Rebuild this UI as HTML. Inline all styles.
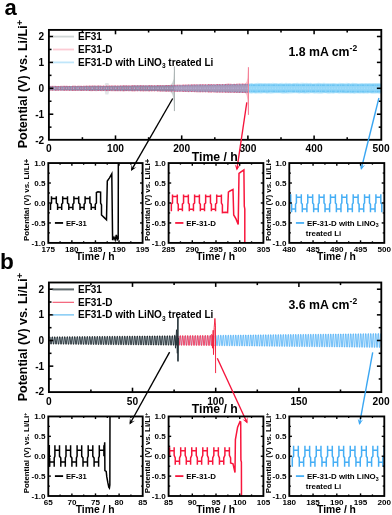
<!DOCTYPE html>
<html><head><meta charset="utf-8"><title>Figure</title>
<style>html,body{margin:0;padding:0;background:#fff}svg{display:block}text{font-family:"Liberation Sans", sans-serif;}</style>
</head><body>
<svg width="392" height="515" viewBox="0 0 392 515" font-family='"Liberation Sans", sans-serif'>
<rect width="392" height="515" fill="#fff"/>
<polygon points="247.90,83.28 249.80,83.20 251.70,83.04 253.60,83.42 255.50,83.26 257.40,82.80 259.31,82.90 261.21,83.02 263.11,83.02 265.01,83.09 266.91,82.99 268.81,82.94 270.71,83.22 272.61,82.87 274.51,82.96 276.41,82.96 278.31,83.16 280.22,83.12 282.12,82.85 284.02,83.31 285.92,82.79 287.82,83.00 289.72,83.07 291.62,83.17 293.52,83.02 295.42,82.96 297.32,82.85 299.22,82.96 301.12,82.84 303.03,82.81 304.93,82.93 306.83,82.86 308.73,83.19 310.63,82.84 312.53,83.31 314.43,83.11 316.33,83.18 318.23,82.82 320.13,82.98 322.03,82.91 323.94,82.81 325.84,83.04 327.74,83.16 329.64,82.98 331.54,83.23 333.44,82.97 335.34,83.32 337.24,83.15 339.14,82.78 341.04,83.05 342.94,82.94 344.85,82.99 346.75,82.75 348.65,83.06 350.55,83.18 352.45,82.72 354.35,82.99 356.25,83.07 358.15,83.31 360.05,82.93 361.95,82.93 363.85,82.90 365.75,82.88 367.66,83.30 369.56,82.89 371.46,83.15 373.36,82.94 375.26,83.08 377.16,83.08 379.06,83.12 380.96,82.82 380.96,93.90 379.06,93.68 377.16,93.55 375.26,93.72 373.36,93.71 371.46,93.63 369.56,93.31 367.66,93.87 365.75,93.45 363.85,93.68 361.95,93.61 360.05,93.86 358.15,93.52 356.25,93.54 354.35,93.89 352.45,93.57 350.55,93.70 348.65,93.44 346.75,93.57 344.85,93.50 342.94,93.51 341.04,93.56 339.14,93.64 337.24,93.28 335.34,93.34 333.44,93.78 331.54,93.62 329.64,93.85 327.74,93.82 325.84,93.25 323.94,93.26 322.03,93.66 320.13,93.83 318.23,93.83 316.33,93.38 314.43,93.76 312.53,93.36 310.63,93.24 308.73,93.81 306.83,93.49 304.93,93.72 303.03,93.49 301.12,93.24 299.22,93.74 297.32,93.22 295.42,93.26 293.52,93.27 291.62,93.47 289.72,93.59 287.82,93.64 285.92,93.56 284.02,93.69 282.12,93.76 280.22,93.24 278.31,93.32 276.41,93.25 274.51,93.27 272.61,93.52 270.71,93.79 268.81,93.44 266.91,93.77 265.01,93.35 263.11,93.27 261.21,93.71 259.31,93.51 257.40,93.51 255.50,93.65 253.60,93.28 251.70,93.75 249.80,93.42 247.90,93.45" fill="#c9ecfc" opacity="1"/>
<polygon points="247.90,83.87 249.80,83.97 251.70,83.77 253.60,84.02 255.50,83.81 257.40,83.96 259.31,83.75 261.21,83.74 263.11,83.95 265.01,83.72 266.91,83.99 268.81,83.86 270.71,83.75 272.61,84.00 274.51,83.74 276.41,83.74 278.31,84.02 280.22,83.74 282.12,83.93 284.02,83.90 285.92,83.69 287.82,84.06 289.72,83.70 291.62,83.88 293.52,83.68 295.42,83.75 297.32,83.78 299.22,83.93 301.12,83.96 303.03,83.81 304.93,83.71 306.83,83.67 308.73,83.66 310.63,83.67 312.53,84.04 314.43,83.97 316.33,83.76 318.23,83.86 320.13,83.78 322.03,83.93 323.94,83.83 325.84,83.88 327.74,83.80 329.64,83.95 331.54,83.64 333.44,83.68 335.34,83.76 337.24,84.00 339.14,83.90 341.04,83.84 342.94,83.69 344.85,83.99 346.75,83.96 348.65,83.60 350.55,83.97 352.45,83.87 354.35,83.86 356.25,83.76 358.15,83.92 360.05,83.94 361.95,83.70 363.85,83.96 365.75,83.83 367.66,83.66 369.56,83.65 371.46,83.81 373.36,83.78 375.26,83.81 377.16,83.79 379.06,83.75 380.96,83.95 380.96,92.86 379.06,92.75 377.16,92.93 375.26,92.75 373.36,92.74 371.46,92.88 369.56,92.77 367.66,92.87 365.75,92.77 363.85,92.95 361.95,92.86 360.05,92.79 358.15,92.88 356.25,92.87 354.35,92.75 352.45,92.88 350.55,92.80 348.65,92.65 346.75,92.98 344.85,92.95 342.94,93.00 341.04,92.80 339.14,92.78 337.24,92.88 335.34,92.64 333.44,92.99 331.54,92.66 329.64,92.66 327.74,92.65 325.84,92.90 323.94,92.66 322.03,92.63 320.13,92.84 318.23,92.59 316.33,92.76 314.43,92.85 312.53,92.66 310.63,92.73 308.73,92.60 306.83,92.68 304.93,92.95 303.03,92.84 301.12,92.93 299.22,92.82 297.32,92.74 295.42,92.61 293.52,92.86 291.62,92.56 289.72,92.54 287.82,92.56 285.92,92.88 284.02,92.78 282.12,92.77 280.22,92.83 278.31,92.82 276.41,92.79 274.51,92.67 272.61,92.82 270.71,92.58 268.81,92.85 266.91,92.88 265.01,92.74 263.11,92.66 261.21,92.85 259.31,92.74 257.40,92.78 255.50,92.88 253.60,92.74 251.70,92.81 249.80,92.82 247.90,92.61" fill="#93d6f8" opacity="1"/>
<line x1="247.9" y1="85.32" x2="381.0" y2="85.19" stroke="#63c2f3" stroke-width="1.5" stroke-dasharray="2.1 0.7 1.2 0.6 3.1 0.8 0.9 0.5" opacity="0.8"/>
<line x1="247.9" y1="91.28" x2="381.0" y2="91.41" stroke="#63c2f3" stroke-width="1.5" stroke-dasharray="2.1 0.7 1.2 0.6 3.1 0.8 0.9 0.5" opacity="0.8"/>
<line x1="247.9" y1="88.30" x2="381.0" y2="88.30" stroke="#a6def9" stroke-width="1.6" stroke-dasharray="1.1 1.6"/>
<polygon points="170.40,84.67 172.20,83.12 173.60,78.98 174.20,66.80 174.70,66.80 174.80,111.35 174.20,111.35 173.60,99.18 172.20,94.00 170.40,91.93" fill="#cdd3d3" />
<line x1="174.40" y1="66.40" x2="174.40" y2="111.00" stroke="#a3acac" stroke-width="0.9" />
<polygon points="245.00,83.90 246.50,82.08 247.50,77.94 248.10,67.58 248.80,67.58 248.90,114.98 248.10,114.98 247.50,99.95 246.50,94.77 245.00,92.70" fill="#fbbcc8" />
<line x1="248.40" y1="67.20" x2="248.40" y2="114.80" stroke="#f3708a" stroke-width="0.9" />
<polygon points="104.80,84.67 105.40,82.99 108.40,82.99 109.00,84.67 109.00,91.93 108.40,94.39 105.40,94.39 104.80,91.93" fill="#e3e6e8" />
<polygon points="49.30,85.96 51.78,85.67 54.27,85.68 56.75,85.99 59.23,86.04 61.71,85.74 64.19,85.66 66.68,85.67 69.16,85.98 71.64,86.01 74.12,85.60 76.61,85.93 79.09,85.51 81.57,85.93 84.06,85.87 86.54,85.56 89.02,85.40 91.50,85.46 93.98,85.46 96.47,85.47 98.95,85.44 101.43,85.77 103.91,85.50 106.40,85.64 108.88,85.62 111.36,85.34 113.84,85.53 116.33,85.52 118.81,85.64 121.29,85.16 123.78,85.26 126.26,85.27 128.74,85.26 131.22,85.34 133.70,85.11 136.19,85.51 138.67,85.07 141.15,85.29 143.63,85.41 146.12,85.38 148.60,85.31 151.08,85.09 153.56,85.28 156.05,85.20 158.53,85.10 161.01,85.24 163.50,85.05 165.98,85.16 168.46,85.03 170.94,85.07 173.43,84.85 175.91,84.80 178.39,84.57 180.87,84.69 183.36,84.45 185.84,84.46 188.32,84.55 190.80,84.62 193.29,84.34 195.77,84.19 198.25,84.49 200.73,84.44 203.22,84.05 205.70,84.32 208.18,84.25 210.66,84.00 213.14,84.29 215.63,84.15 218.11,83.96 220.59,84.22 223.07,83.96 225.56,84.03 228.04,83.61 230.52,83.78 233.00,83.88 235.49,83.93 237.97,83.48 240.45,83.42 242.94,83.47 245.42,83.68 247.90,83.45 247.90,92.91 245.42,92.94 242.94,92.85 240.45,93.01 237.97,93.12 235.49,92.67 233.00,92.75 230.52,92.99 228.04,92.81 225.56,92.67 223.07,92.68 220.59,92.72 218.11,92.51 215.63,92.63 213.14,92.35 210.66,92.70 208.18,92.48 205.70,92.22 203.22,92.16 200.73,92.22 198.25,92.40 195.77,92.36 193.29,91.93 190.80,92.01 188.32,92.21 185.84,91.78 183.36,92.02 180.87,91.80 178.39,91.84 175.91,91.64 173.43,91.71 170.94,91.46 168.46,91.52 165.98,91.68 163.50,91.62 161.01,91.76 158.53,91.58 156.05,91.26 153.56,91.32 151.08,91.17 148.60,91.53 146.12,91.33 143.63,91.47 141.15,91.22 138.67,91.31 136.19,91.17 133.70,91.46 131.22,91.19 128.74,91.24 126.26,91.10 123.78,91.39 121.29,91.24 118.81,91.18 116.33,91.20 113.84,91.20 111.36,91.18 108.88,91.05 106.40,91.25 103.91,90.90 101.43,91.14 98.95,90.81 96.47,91.22 93.98,90.99 91.50,91.22 89.02,90.92 86.54,90.77 84.06,90.75 81.57,90.74 79.09,91.06 76.61,91.08 74.12,91.10 71.64,91.03 69.16,90.78 66.68,90.77 64.19,90.70 61.71,90.57 59.23,90.59 56.75,90.75 54.27,90.57 51.78,90.77 49.30,90.49" fill="#f1b4c6" opacity="1"/>
<polygon points="49.30,86.34 51.78,86.14 54.27,86.24 56.75,86.23 59.23,86.15 61.71,86.17 64.19,86.14 66.68,86.24 69.16,86.10 71.64,86.01 74.12,86.15 76.61,86.06 79.09,86.03 81.57,86.10 84.06,86.14 86.54,85.95 89.02,85.94 91.50,86.04 93.98,85.87 96.47,85.94 98.95,85.86 101.43,85.95 103.91,85.88 106.40,85.91 108.88,85.96 111.36,85.94 113.84,85.75 116.33,85.88 118.81,85.81 121.29,85.69 123.78,85.73 126.26,85.76 128.74,85.71 131.22,85.77 133.70,85.61 136.19,85.58 138.67,85.53 141.15,85.61 143.63,85.57 146.12,85.54 148.60,85.48 151.08,85.53 153.56,85.67 156.05,85.48 158.53,85.50 161.01,85.53 163.50,85.52 165.98,85.31 168.46,85.28 170.94,85.15 173.43,85.12 175.91,85.26 178.39,85.17 180.87,85.04 183.36,85.04 185.84,84.89 188.32,84.80 190.80,84.73 193.29,84.73 195.77,84.66 198.25,84.60 200.73,84.57 203.22,84.70 205.70,84.67 208.18,84.61 210.66,84.43 213.14,84.46 215.63,84.45 218.11,84.30 220.59,84.41 223.07,84.23 225.56,84.28 228.04,84.18 230.52,84.30 233.00,84.06 235.49,84.10 237.97,84.13 240.45,84.04 242.94,84.10 245.42,84.02 247.90,84.01 247.90,92.83 245.42,92.67 242.94,92.73 240.45,92.67 237.97,92.63 235.49,92.59 233.00,92.56 230.52,92.51 228.04,92.46 225.56,92.35 223.07,92.35 220.59,92.17 218.11,92.26 215.63,92.21 213.14,92.12 210.66,92.11 208.18,92.08 205.70,92.12 203.22,92.12 200.73,91.96 198.25,91.93 195.77,91.75 193.29,91.85 190.80,91.70 188.32,91.68 185.84,91.75 183.36,91.51 180.87,91.44 178.39,91.61 175.91,91.49 173.43,91.37 170.94,91.45 168.46,91.18 165.98,91.26 163.50,91.20 161.01,91.14 158.53,91.11 156.05,91.08 153.56,90.99 151.08,90.99 148.60,91.03 146.12,91.06 143.63,90.87 141.15,90.95 138.67,90.99 136.19,90.84 133.70,91.04 131.22,90.97 128.74,90.87 126.26,90.95 123.78,90.94 121.29,90.77 118.81,90.75 116.33,90.88 113.84,90.72 111.36,90.86 108.88,90.80 106.40,90.64 103.91,90.64 101.43,90.72 98.95,90.71 96.47,90.72 93.98,90.76 91.50,90.65 89.02,90.64 86.54,90.57 84.06,90.51 81.57,90.63 79.09,90.54 76.61,90.50 74.12,90.44 71.64,90.57 69.16,90.56 66.68,90.34 64.19,90.39 61.71,90.49 59.23,90.34 56.75,90.41 54.27,90.46 51.78,90.29 49.30,90.25" fill="#a79bbb" opacity="1"/>
<polygon points="49.30,86.44 52.43,86.38 55.56,86.41 58.68,86.44 61.81,86.39 64.94,86.33 68.07,86.28 71.20,86.34 74.32,86.22 77.45,86.19 80.58,86.15 83.71,86.23 86.84,86.12 89.96,86.17 93.09,86.10 96.22,86.09 99.35,86.15 102.48,86.11 105.60,86.10 108.73,85.95 111.86,85.92 114.99,85.92 118.11,85.88 121.24,85.95 124.37,85.83 127.50,85.91 130.63,85.92 133.75,85.86 136.88,85.75 140.01,85.75 143.14,85.72 146.27,85.68 149.39,85.74 152.52,85.66 155.65,85.71 158.78,85.62 161.91,85.56 165.03,85.53 168.16,85.43 171.29,85.40 174.42,85.31 174.42,91.33 171.29,91.16 168.16,91.21 165.03,91.13 161.91,91.03 158.78,90.93 155.65,90.97 152.52,90.90 149.39,90.92 146.27,90.88 143.14,90.82 140.01,90.77 136.88,90.84 133.75,90.74 130.63,90.76 127.50,90.67 124.37,90.76 121.24,90.66 118.11,90.73 114.99,90.57 111.86,90.61 108.73,90.63 105.60,90.54 102.48,90.62 99.35,90.58 96.22,90.58 93.09,90.40 89.96,90.52 86.84,90.41 83.71,90.45 80.58,90.42 77.45,90.37 74.32,90.38 71.20,90.39 68.07,90.32 64.94,90.33 61.81,90.32 58.68,90.16 55.56,90.23 52.43,90.26 49.30,90.18" fill="#85778f" opacity="0.45"/>
<polyline points="49.30,86.49 158.53,85.71 201.56,84.83 247.90,84.10" fill="none" stroke="#df3f6c" stroke-width="1.0" stroke-linejoin="miter" stroke-dasharray="1.0 1.7 0.8 2.3 1.2 1.5" opacity="0.8"/>
<polyline points="49.30,87.34 158.53,86.56 201.56,85.68 247.90,84.96" fill="none" stroke="#8c80ac" stroke-width="1.0" stroke-linejoin="miter" stroke-dasharray="1.6 1.1 0.9 1.4" opacity="0.7"/>
<polyline points="49.30,90.11 158.53,90.89 201.56,91.77 247.90,92.50" fill="none" stroke="#df3f6c" stroke-width="1.0" stroke-linejoin="miter" stroke-dasharray="1.0 1.7 0.8 2.3 1.2 1.5" opacity="0.8"/>
<polyline points="49.30,89.26 158.53,90.04 201.56,90.92 247.90,91.64" fill="none" stroke="#8c80ac" stroke-width="1.0" stroke-linejoin="miter" stroke-dasharray="1.6 1.1 0.9 1.4" opacity="0.7"/>
<line x1="49.3" y1="88.30" x2="247.9" y2="88.30" stroke="#b5abd0" stroke-width="1.5" stroke-dasharray="1.3 1.5 0.8 1.1"/>
<line x1="49.3" y1="88.30" x2="148.6" y2="88.30" stroke="#d84a74" stroke-width="1.2" stroke-dasharray="0.9 2.6 0.7 3.3" opacity="0.6"/>
<text x="48.90" y="152.30" font-size="10.2" text-anchor="middle" fill="#000" font-weight="bold" >0</text>
<line x1="115.50" y1="139.80" x2="115.50" y2="135.40" stroke="#000" stroke-width="1.55" />
<line x1="115.50" y1="29.90" x2="115.50" y2="34.30" stroke="#000" stroke-width="1.55" />
<text x="115.50" y="152.30" font-size="10.2" text-anchor="middle" fill="#000" font-weight="bold" >100</text>
<line x1="181.70" y1="139.80" x2="181.70" y2="135.40" stroke="#000" stroke-width="1.55" />
<line x1="181.70" y1="29.90" x2="181.70" y2="34.30" stroke="#000" stroke-width="1.55" />
<text x="181.70" y="152.30" font-size="10.2" text-anchor="middle" fill="#000" font-weight="bold" >200</text>
<line x1="247.90" y1="139.80" x2="247.90" y2="135.40" stroke="#000" stroke-width="1.55" />
<line x1="247.90" y1="29.90" x2="247.90" y2="34.30" stroke="#000" stroke-width="1.55" />
<text x="247.90" y="152.30" font-size="10.2" text-anchor="middle" fill="#000" font-weight="bold" >300</text>
<line x1="314.10" y1="139.80" x2="314.10" y2="135.40" stroke="#000" stroke-width="1.55" />
<line x1="314.10" y1="29.90" x2="314.10" y2="34.30" stroke="#000" stroke-width="1.55" />
<text x="314.10" y="152.30" font-size="10.2" text-anchor="middle" fill="#000" font-weight="bold" >400</text>
<text x="381.10" y="152.30" font-size="10.2" text-anchor="middle" fill="#000" font-weight="bold" >500</text>
<line x1="82.40" y1="139.80" x2="82.40" y2="137.20" stroke="#000" stroke-width="1.55" />
<line x1="82.40" y1="29.90" x2="82.40" y2="32.50" stroke="#000" stroke-width="1.55" />
<line x1="148.60" y1="139.80" x2="148.60" y2="137.20" stroke="#000" stroke-width="1.55" />
<line x1="148.60" y1="29.90" x2="148.60" y2="32.50" stroke="#000" stroke-width="1.55" />
<line x1="214.80" y1="139.80" x2="214.80" y2="137.20" stroke="#000" stroke-width="1.55" />
<line x1="214.80" y1="29.90" x2="214.80" y2="32.50" stroke="#000" stroke-width="1.55" />
<line x1="281.00" y1="139.80" x2="281.00" y2="137.20" stroke="#000" stroke-width="1.55" />
<line x1="281.00" y1="29.90" x2="281.00" y2="32.50" stroke="#000" stroke-width="1.55" />
<line x1="347.20" y1="139.80" x2="347.20" y2="137.20" stroke="#000" stroke-width="1.55" />
<line x1="347.20" y1="29.90" x2="347.20" y2="32.50" stroke="#000" stroke-width="1.55" />
<line x1="48.90" y1="36.50" x2="53.30" y2="36.50" stroke="#000" stroke-width="1.55" />
<line x1="381.30" y1="36.50" x2="376.90" y2="36.50" stroke="#000" stroke-width="1.55" />
<text x="44.20" y="39.90" font-size="10.1" text-anchor="end" fill="#000" font-weight="bold" >2</text>
<line x1="48.90" y1="62.40" x2="53.30" y2="62.40" stroke="#000" stroke-width="1.55" />
<line x1="381.30" y1="62.40" x2="376.90" y2="62.40" stroke="#000" stroke-width="1.55" />
<text x="44.20" y="65.80" font-size="10.1" text-anchor="end" fill="#000" font-weight="bold" >1</text>
<line x1="48.90" y1="88.30" x2="53.30" y2="88.30" stroke="#000" stroke-width="1.55" />
<line x1="381.30" y1="88.30" x2="376.90" y2="88.30" stroke="#000" stroke-width="1.55" />
<text x="44.20" y="91.70" font-size="10.1" text-anchor="end" fill="#000" font-weight="bold" >0</text>
<line x1="48.90" y1="114.20" x2="53.30" y2="114.20" stroke="#000" stroke-width="1.55" />
<line x1="381.30" y1="114.20" x2="376.90" y2="114.20" stroke="#000" stroke-width="1.55" />
<text x="44.20" y="117.60" font-size="10.1" text-anchor="end" fill="#000" font-weight="bold" >-1</text>
<text x="44.20" y="143.50" font-size="10.1" text-anchor="end" fill="#000" font-weight="bold" >-2</text>
<line x1="48.90" y1="49.45" x2="51.50" y2="49.45" stroke="#000" stroke-width="1.55" />
<line x1="381.30" y1="49.45" x2="378.70" y2="49.45" stroke="#000" stroke-width="1.55" />
<line x1="48.90" y1="75.35" x2="51.50" y2="75.35" stroke="#000" stroke-width="1.55" />
<line x1="381.30" y1="75.35" x2="378.70" y2="75.35" stroke="#000" stroke-width="1.55" />
<line x1="48.90" y1="101.25" x2="51.50" y2="101.25" stroke="#000" stroke-width="1.55" />
<line x1="381.30" y1="101.25" x2="378.70" y2="101.25" stroke="#000" stroke-width="1.55" />
<line x1="48.90" y1="127.15" x2="51.50" y2="127.15" stroke="#000" stroke-width="1.55" />
<line x1="381.30" y1="127.15" x2="378.70" y2="127.15" stroke="#000" stroke-width="1.55" />
<rect x="48.90" y="29.90" width="332.40" height="109.90" fill="none" stroke="#000" stroke-width="1.85"/>
<text transform="translate(214.8,160.70) scale(0.93,1)" font-size="13.2" text-anchor="middle" font-weight="bold">Time / h</text>
<text transform="translate(27.2,148.3) rotate(-90)" font-size="12.5" font-weight="bold">Potential (V) vs. Li/Li<tspan font-size="9" dy="-4.5">+</tspan></text>
<line x1="53.00" y1="36.60" x2="74.00" y2="36.60" stroke="#d0d6d6" stroke-width="1.8" />
<text x="78.00" y="40.10" font-size="10" text-anchor="start" fill="#000" font-weight="bold" >EF31</text>
<line x1="53.00" y1="49.50" x2="74.00" y2="49.50" stroke="#fccbd4" stroke-width="1.8" />
<text x="78.00" y="53.00" font-size="10" text-anchor="start" fill="#000" font-weight="bold" >EF31-D</text>
<line x1="53.00" y1="62.40" x2="74.00" y2="62.40" stroke="#c0e6fa" stroke-width="1.8" />
<text x="78.00" y="65.90" font-size="10" text-anchor="start" fill="#000" font-weight="bold" >EF31-D with LiNO<tspan font-size="6.5" dy="2.2">3</tspan><tspan dy="-2.2"> treated Li</tspan></text>
<text x="288.50" y="55.70" font-size="12.3" text-anchor="start" fill="#000" font-weight="bold" >1.8 mA cm<tspan font-size="8.5" dy="-5">-2</tspan></text>
<text x="4.60" y="14.60" font-size="22" text-anchor="start" fill="#000" font-weight="bold" >a</text>
<line x1="172.70" y1="98.50" x2="131.75" y2="169.70" stroke="#000" stroke-width="1.35" />
<polygon points="131.00,171.00 131.56,164.40 132.65,168.14 136.42,167.19" fill="#000" />
<line x1="246.80" y1="102.40" x2="236.92" y2="169.12" stroke="#f5143c" stroke-width="1.35" />
<polygon points="236.70,170.60 234.81,164.25 237.18,167.34 240.35,165.07" fill="#f5143c" />
<line x1="378.90" y1="98.00" x2="361.36" y2="168.54" stroke="#3aa6f2" stroke-width="1.4" />
<polygon points="361.00,170.00 359.73,163.50 361.80,166.80 365.16,164.85" fill="#3aa6f2" />
<clipPath id="c48_163"><rect x="48.3" y="163.05" width="94.3" height="79.85"/></clipPath>
<polyline points="50.50,207.45 50.50,210.04 50.50,204.17 51.50,202.98 51.50,196.15 51.50,198.42 56.30,198.42 56.30,196.15 56.30,202.98 57.60,204.17 57.60,210.04 57.60,207.45 61.70,207.45 61.70,210.04 61.70,204.17 62.70,202.98 62.70,196.15 62.70,198.42 67.50,198.42 67.50,196.15 67.50,202.98 68.80,204.17 68.80,210.04 68.80,207.45 72.90,207.45 72.90,210.04 72.90,204.17 73.90,202.98 73.90,196.15 73.90,198.42 78.70,198.42 78.70,196.15 78.70,202.98 80.00,204.17 80.00,210.04 80.00,207.45 84.10,207.45 84.10,210.04 84.10,204.17 85.10,202.98 85.10,196.15 85.10,198.42 89.90,198.42 89.90,196.15 89.90,202.98 91.20,204.17 91.20,210.04 91.20,207.45 95.30,207.45 95.30,210.04 95.30,204.17 96.40,202.98 96.40,192.59 98.00,191.80 100.60,192.20 100.60,202.98 101.50,204.97 101.50,214.95 104.00,217.35 106.50,219.74 107.30,181.02 109.50,177.82 111.80,173.83 112.60,240.11 114.00,237.31 115.20,240.11 116.30,234.92 117.30,239.71 118.20,238.91 118.35,155.07" fill="none" stroke="#000" stroke-width="1.5" stroke-linejoin="miter" clip-path="url(#c48_163)"/>
<text x="48.30" y="251.80" font-size="8.1" text-anchor="middle" fill="#000" font-weight="bold" >175</text>
<line x1="71.88" y1="242.90" x2="71.88" y2="240.30" stroke="#000" stroke-width="1.4" />
<line x1="71.88" y1="163.05" x2="71.88" y2="165.65" stroke="#000" stroke-width="1.4" />
<text x="71.88" y="251.80" font-size="8.1" text-anchor="middle" fill="#000" font-weight="bold" >180</text>
<line x1="95.45" y1="242.90" x2="95.45" y2="240.30" stroke="#000" stroke-width="1.4" />
<line x1="95.45" y1="163.05" x2="95.45" y2="165.65" stroke="#000" stroke-width="1.4" />
<text x="95.45" y="251.80" font-size="8.1" text-anchor="middle" fill="#000" font-weight="bold" >185</text>
<line x1="119.02" y1="242.90" x2="119.02" y2="240.30" stroke="#000" stroke-width="1.4" />
<line x1="119.02" y1="163.05" x2="119.02" y2="165.65" stroke="#000" stroke-width="1.4" />
<text x="119.02" y="251.80" font-size="8.1" text-anchor="middle" fill="#000" font-weight="bold" >190</text>
<text x="142.60" y="251.80" font-size="8.1" text-anchor="middle" fill="#000" font-weight="bold" >195</text>
<line x1="60.09" y1="242.90" x2="60.09" y2="241.30" stroke="#000" stroke-width="1.3" />
<line x1="60.09" y1="163.05" x2="60.09" y2="164.65" stroke="#000" stroke-width="1.3" />
<line x1="83.66" y1="242.90" x2="83.66" y2="241.30" stroke="#000" stroke-width="1.3" />
<line x1="83.66" y1="163.05" x2="83.66" y2="164.65" stroke="#000" stroke-width="1.3" />
<line x1="107.24" y1="242.90" x2="107.24" y2="241.30" stroke="#000" stroke-width="1.3" />
<line x1="107.24" y1="163.05" x2="107.24" y2="164.65" stroke="#000" stroke-width="1.3" />
<line x1="130.81" y1="242.90" x2="130.81" y2="241.30" stroke="#000" stroke-width="1.3" />
<line x1="130.81" y1="163.05" x2="130.81" y2="164.65" stroke="#000" stroke-width="1.3" />
<text x="45.50" y="165.95" font-size="8.1" text-anchor="end" fill="#000" font-weight="bold" >1.0</text>
<line x1="48.30" y1="183.01" x2="50.90" y2="183.01" stroke="#000" stroke-width="1.4" />
<line x1="142.60" y1="183.01" x2="140.00" y2="183.01" stroke="#000" stroke-width="1.4" />
<text x="45.50" y="185.91" font-size="8.1" text-anchor="end" fill="#000" font-weight="bold" >0.5</text>
<line x1="48.30" y1="202.98" x2="50.90" y2="202.98" stroke="#000" stroke-width="1.4" />
<line x1="142.60" y1="202.98" x2="140.00" y2="202.98" stroke="#000" stroke-width="1.4" />
<text x="45.50" y="205.88" font-size="8.1" text-anchor="end" fill="#000" font-weight="bold" >0.0</text>
<line x1="48.30" y1="222.94" x2="50.90" y2="222.94" stroke="#000" stroke-width="1.4" />
<line x1="142.60" y1="222.94" x2="140.00" y2="222.94" stroke="#000" stroke-width="1.4" />
<text x="45.50" y="225.84" font-size="8.1" text-anchor="end" fill="#000" font-weight="bold" >-0.5</text>
<text x="45.50" y="245.80" font-size="8.1" text-anchor="end" fill="#000" font-weight="bold" >-1.0</text>
<line x1="48.30" y1="173.03" x2="49.90" y2="173.03" stroke="#000" stroke-width="1.3" />
<line x1="142.60" y1="173.03" x2="141.00" y2="173.03" stroke="#000" stroke-width="1.3" />
<line x1="48.30" y1="192.99" x2="49.90" y2="192.99" stroke="#000" stroke-width="1.3" />
<line x1="142.60" y1="192.99" x2="141.00" y2="192.99" stroke="#000" stroke-width="1.3" />
<line x1="48.30" y1="212.96" x2="49.90" y2="212.96" stroke="#000" stroke-width="1.3" />
<line x1="142.60" y1="212.96" x2="141.00" y2="212.96" stroke="#000" stroke-width="1.3" />
<line x1="48.30" y1="232.92" x2="49.90" y2="232.92" stroke="#000" stroke-width="1.3" />
<line x1="142.60" y1="232.92" x2="141.00" y2="232.92" stroke="#000" stroke-width="1.3" />
<rect x="48.30" y="163.05" width="94.30" height="79.85" fill="none" stroke="#000" stroke-width="1.85"/>
<text x="95.15" y="260.30" font-size="10.35" text-anchor="middle" fill="#000" font-weight="bold" >Time / h</text>
<text transform="translate(29.4,240.9) rotate(-90)" font-size="7.9" font-weight="bold">Potential (V) vs. Li/Li+</text>
<line x1="54.90" y1="222.94" x2="63.10" y2="222.94" stroke="#000" stroke-width="1.8" />
<text x="65.90" y="225.54" font-size="7.65" text-anchor="start" fill="#000" font-weight="bold" >EF-31</text>
<clipPath id="c168_163"><rect x="168.6" y="163.05" width="94.79999999999998" height="79.85"/></clipPath>
<polyline points="171.35,209.36 171.35,211.36 171.35,204.17 172.50,202.98 172.50,194.59 172.50,196.47 177.30,196.47 177.30,194.59 177.30,202.98 178.25,204.17 178.25,211.36 178.25,209.36 182.40,209.36 182.40,211.36 182.40,204.17 183.55,202.98 183.55,194.59 183.55,196.47 188.35,196.47 188.35,194.59 188.35,202.98 189.30,204.17 189.30,211.36 189.30,209.36 193.45,209.36 193.45,211.36 193.45,204.17 194.60,202.98 194.60,194.59 194.60,196.47 199.40,196.47 199.40,194.59 199.40,202.98 200.35,204.17 200.35,211.36 200.35,209.36 204.50,209.36 204.50,211.36 204.50,204.17 205.65,202.98 205.65,194.59 205.65,196.47 210.45,196.47 210.45,194.59 210.45,202.98 211.40,204.17 211.40,211.36 211.40,209.36 215.55,209.36 215.55,211.36 215.55,204.17 216.70,202.98 216.70,194.59 216.70,196.19 221.40,196.19 221.40,194.59 221.40,202.98 222.40,204.97 222.40,212.56 225.50,212.16 227.60,212.56 228.40,192.20 230.00,191.00 233.00,189.40 233.70,214.95 236.00,218.95 238.20,224.53 239.00,173.43 241.00,171.83 243.90,169.84 244.30,206.17 244.80,208.96 244.80,250.89" fill="none" stroke="#f8163c" stroke-width="1.5" stroke-linejoin="miter" clip-path="url(#c168_163)"/>
<text x="168.60" y="251.80" font-size="8.1" text-anchor="middle" fill="#000" font-weight="bold" >285</text>
<line x1="192.30" y1="242.90" x2="192.30" y2="240.30" stroke="#000" stroke-width="1.4" />
<line x1="192.30" y1="163.05" x2="192.30" y2="165.65" stroke="#000" stroke-width="1.4" />
<text x="192.30" y="251.80" font-size="8.1" text-anchor="middle" fill="#000" font-weight="bold" >290</text>
<line x1="216.00" y1="242.90" x2="216.00" y2="240.30" stroke="#000" stroke-width="1.4" />
<line x1="216.00" y1="163.05" x2="216.00" y2="165.65" stroke="#000" stroke-width="1.4" />
<text x="216.00" y="251.80" font-size="8.1" text-anchor="middle" fill="#000" font-weight="bold" >295</text>
<line x1="239.70" y1="242.90" x2="239.70" y2="240.30" stroke="#000" stroke-width="1.4" />
<line x1="239.70" y1="163.05" x2="239.70" y2="165.65" stroke="#000" stroke-width="1.4" />
<text x="239.70" y="251.80" font-size="8.1" text-anchor="middle" fill="#000" font-weight="bold" >300</text>
<text x="263.40" y="251.80" font-size="8.1" text-anchor="middle" fill="#000" font-weight="bold" >305</text>
<line x1="180.45" y1="242.90" x2="180.45" y2="241.30" stroke="#000" stroke-width="1.3" />
<line x1="180.45" y1="163.05" x2="180.45" y2="164.65" stroke="#000" stroke-width="1.3" />
<line x1="204.15" y1="242.90" x2="204.15" y2="241.30" stroke="#000" stroke-width="1.3" />
<line x1="204.15" y1="163.05" x2="204.15" y2="164.65" stroke="#000" stroke-width="1.3" />
<line x1="227.85" y1="242.90" x2="227.85" y2="241.30" stroke="#000" stroke-width="1.3" />
<line x1="227.85" y1="163.05" x2="227.85" y2="164.65" stroke="#000" stroke-width="1.3" />
<line x1="251.55" y1="242.90" x2="251.55" y2="241.30" stroke="#000" stroke-width="1.3" />
<line x1="251.55" y1="163.05" x2="251.55" y2="164.65" stroke="#000" stroke-width="1.3" />
<text x="165.80" y="165.95" font-size="8.1" text-anchor="end" fill="#000" font-weight="bold" >1.0</text>
<line x1="168.60" y1="183.01" x2="171.20" y2="183.01" stroke="#000" stroke-width="1.4" />
<line x1="263.40" y1="183.01" x2="260.80" y2="183.01" stroke="#000" stroke-width="1.4" />
<text x="165.80" y="185.91" font-size="8.1" text-anchor="end" fill="#000" font-weight="bold" >0.5</text>
<line x1="168.60" y1="202.98" x2="171.20" y2="202.98" stroke="#000" stroke-width="1.4" />
<line x1="263.40" y1="202.98" x2="260.80" y2="202.98" stroke="#000" stroke-width="1.4" />
<text x="165.80" y="205.88" font-size="8.1" text-anchor="end" fill="#000" font-weight="bold" >0.0</text>
<line x1="168.60" y1="222.94" x2="171.20" y2="222.94" stroke="#000" stroke-width="1.4" />
<line x1="263.40" y1="222.94" x2="260.80" y2="222.94" stroke="#000" stroke-width="1.4" />
<text x="165.80" y="225.84" font-size="8.1" text-anchor="end" fill="#000" font-weight="bold" >-0.5</text>
<text x="165.80" y="245.80" font-size="8.1" text-anchor="end" fill="#000" font-weight="bold" >-1.0</text>
<line x1="168.60" y1="173.03" x2="170.20" y2="173.03" stroke="#000" stroke-width="1.3" />
<line x1="263.40" y1="173.03" x2="261.80" y2="173.03" stroke="#000" stroke-width="1.3" />
<line x1="168.60" y1="192.99" x2="170.20" y2="192.99" stroke="#000" stroke-width="1.3" />
<line x1="263.40" y1="192.99" x2="261.80" y2="192.99" stroke="#000" stroke-width="1.3" />
<line x1="168.60" y1="212.96" x2="170.20" y2="212.96" stroke="#000" stroke-width="1.3" />
<line x1="263.40" y1="212.96" x2="261.80" y2="212.96" stroke="#000" stroke-width="1.3" />
<line x1="168.60" y1="232.92" x2="170.20" y2="232.92" stroke="#000" stroke-width="1.3" />
<line x1="263.40" y1="232.92" x2="261.80" y2="232.92" stroke="#000" stroke-width="1.3" />
<rect x="168.60" y="163.05" width="94.80" height="79.85" fill="none" stroke="#000" stroke-width="1.85"/>
<text x="215.70" y="260.30" font-size="10.35" text-anchor="middle" fill="#000" font-weight="bold" >Time / h</text>
<text transform="translate(150.2,240.9) rotate(-90)" font-size="7.9" font-weight="bold">Potential (V) vs. Li/Li+</text>
<line x1="175.20" y1="222.94" x2="183.40" y2="222.94" stroke="#f8163c" stroke-width="1.8" />
<text x="186.20" y="225.54" font-size="7.9" text-anchor="start" fill="#000" font-weight="bold" >EF-31-D</text>
<clipPath id="c289_163"><rect x="289.3" y="163.05" width="95.0" height="79.85"/></clipPath>
<polyline points="290.70,194.19 290.70,202.98 291.60,204.17 291.60,212.36 291.60,208.96 295.54,208.96 295.54,212.36 295.54,204.17 296.40,202.98 296.40,194.19 296.40,197.19 301.30,197.19 301.30,194.19 301.30,202.98 302.30,204.17 302.30,212.36 302.30,208.96 306.90,208.96 306.90,212.36 306.90,204.17 307.76,202.98 307.76,194.19 307.76,197.19 312.66,197.19 312.66,194.19 312.66,202.98 313.66,204.17 313.66,212.36 313.66,208.96 318.26,208.96 318.26,212.36 318.26,204.17 319.12,202.98 319.12,194.19 319.12,197.19 324.02,197.19 324.02,194.19 324.02,202.98 325.02,204.17 325.02,212.36 325.02,208.96 329.62,208.96 329.62,212.36 329.62,204.17 330.48,202.98 330.48,194.19 330.48,197.19 335.38,197.19 335.38,194.19 335.38,202.98 336.38,204.17 336.38,212.36 336.38,208.96 340.98,208.96 340.98,212.36 340.98,204.17 341.84,202.98 341.84,194.19 341.84,197.19 346.74,197.19 346.74,194.19 346.74,202.98 347.74,204.17 347.74,212.36 347.74,208.96 352.34,208.96 352.34,212.36 352.34,204.17 353.20,202.98 353.20,194.19 353.20,197.19 358.10,197.19 358.10,194.19 358.10,202.98 359.10,204.17 359.10,212.36 359.10,208.96 363.70,208.96 363.70,212.36 363.70,204.17 364.56,202.98 364.56,194.19 364.56,197.19 369.46,197.19 369.46,194.19 369.46,202.98 370.46,204.17 370.46,212.36 370.46,208.96 375.06,208.96 375.06,212.36 375.06,204.17 375.92,202.98 375.92,194.19 375.92,197.19 380.82,197.19 380.82,194.19 380.82,202.98 381.82,204.17 381.82,212.36 381.82,208.96" fill="none" stroke="#45aef5" stroke-width="1.5" stroke-linejoin="miter" clip-path="url(#c289_163)"/>
<text x="289.30" y="251.80" font-size="8.1" text-anchor="middle" fill="#000" font-weight="bold" >480</text>
<line x1="313.05" y1="242.90" x2="313.05" y2="240.30" stroke="#000" stroke-width="1.4" />
<line x1="313.05" y1="163.05" x2="313.05" y2="165.65" stroke="#000" stroke-width="1.4" />
<text x="313.05" y="251.80" font-size="8.1" text-anchor="middle" fill="#000" font-weight="bold" >485</text>
<line x1="336.80" y1="242.90" x2="336.80" y2="240.30" stroke="#000" stroke-width="1.4" />
<line x1="336.80" y1="163.05" x2="336.80" y2="165.65" stroke="#000" stroke-width="1.4" />
<text x="336.80" y="251.80" font-size="8.1" text-anchor="middle" fill="#000" font-weight="bold" >490</text>
<line x1="360.55" y1="242.90" x2="360.55" y2="240.30" stroke="#000" stroke-width="1.4" />
<line x1="360.55" y1="163.05" x2="360.55" y2="165.65" stroke="#000" stroke-width="1.4" />
<text x="360.55" y="251.80" font-size="8.1" text-anchor="middle" fill="#000" font-weight="bold" >495</text>
<text x="384.30" y="251.80" font-size="8.1" text-anchor="middle" fill="#000" font-weight="bold" >500</text>
<line x1="301.18" y1="242.90" x2="301.18" y2="241.30" stroke="#000" stroke-width="1.3" />
<line x1="301.18" y1="163.05" x2="301.18" y2="164.65" stroke="#000" stroke-width="1.3" />
<line x1="324.93" y1="242.90" x2="324.93" y2="241.30" stroke="#000" stroke-width="1.3" />
<line x1="324.93" y1="163.05" x2="324.93" y2="164.65" stroke="#000" stroke-width="1.3" />
<line x1="348.68" y1="242.90" x2="348.68" y2="241.30" stroke="#000" stroke-width="1.3" />
<line x1="348.68" y1="163.05" x2="348.68" y2="164.65" stroke="#000" stroke-width="1.3" />
<line x1="372.43" y1="242.90" x2="372.43" y2="241.30" stroke="#000" stroke-width="1.3" />
<line x1="372.43" y1="163.05" x2="372.43" y2="164.65" stroke="#000" stroke-width="1.3" />
<text x="286.50" y="165.95" font-size="8.1" text-anchor="end" fill="#000" font-weight="bold" >1.0</text>
<line x1="289.30" y1="183.01" x2="291.90" y2="183.01" stroke="#000" stroke-width="1.4" />
<line x1="384.30" y1="183.01" x2="381.70" y2="183.01" stroke="#000" stroke-width="1.4" />
<text x="286.50" y="185.91" font-size="8.1" text-anchor="end" fill="#000" font-weight="bold" >0.5</text>
<line x1="289.30" y1="202.98" x2="291.90" y2="202.98" stroke="#000" stroke-width="1.4" />
<line x1="384.30" y1="202.98" x2="381.70" y2="202.98" stroke="#000" stroke-width="1.4" />
<text x="286.50" y="205.88" font-size="8.1" text-anchor="end" fill="#000" font-weight="bold" >0.0</text>
<line x1="289.30" y1="222.94" x2="291.90" y2="222.94" stroke="#000" stroke-width="1.4" />
<line x1="384.30" y1="222.94" x2="381.70" y2="222.94" stroke="#000" stroke-width="1.4" />
<text x="286.50" y="225.84" font-size="8.1" text-anchor="end" fill="#000" font-weight="bold" >-0.5</text>
<text x="286.50" y="245.80" font-size="8.1" text-anchor="end" fill="#000" font-weight="bold" >-1.0</text>
<line x1="289.30" y1="173.03" x2="290.90" y2="173.03" stroke="#000" stroke-width="1.3" />
<line x1="384.30" y1="173.03" x2="382.70" y2="173.03" stroke="#000" stroke-width="1.3" />
<line x1="289.30" y1="192.99" x2="290.90" y2="192.99" stroke="#000" stroke-width="1.3" />
<line x1="384.30" y1="192.99" x2="382.70" y2="192.99" stroke="#000" stroke-width="1.3" />
<line x1="289.30" y1="212.96" x2="290.90" y2="212.96" stroke="#000" stroke-width="1.3" />
<line x1="384.30" y1="212.96" x2="382.70" y2="212.96" stroke="#000" stroke-width="1.3" />
<line x1="289.30" y1="232.92" x2="290.90" y2="232.92" stroke="#000" stroke-width="1.3" />
<line x1="384.30" y1="232.92" x2="382.70" y2="232.92" stroke="#000" stroke-width="1.3" />
<rect x="289.30" y="163.05" width="95.00" height="79.85" fill="none" stroke="#000" stroke-width="1.85"/>
<text x="336.50" y="260.30" font-size="10.35" text-anchor="middle" fill="#000" font-weight="bold" >Time / h</text>
<text transform="translate(271.2,240.9) rotate(-90)" font-size="7.9" font-weight="bold">Potential (V) vs. Li/Li+</text>
<line x1="295.90" y1="222.94" x2="304.10" y2="222.94" stroke="#45aef5" stroke-width="1.8" />
<text x="306.90" y="225.54" font-size="7.9" text-anchor="start" fill="#000" font-weight="bold" >EF-31-D with LiNO<tspan font-size="5.2" dy="1.8">3</tspan></text>
<text x="305.80" y="236.14" font-size="7.9" text-anchor="start" fill="#000" font-weight="bold" >treated Li</text>
<polyline points="49.50,337.17 50.00,337.17 50.75,343.83 51.25,343.83 52.00,337.15 52.50,337.15 53.25,343.85 53.75,343.85 54.50,337.13 55.00,337.13 55.75,343.87 56.25,343.87 57.00,337.11 57.50,337.11 58.25,343.89 58.75,343.89 59.50,337.09 60.00,337.09 60.75,343.91 61.25,343.91 62.00,337.07 62.50,337.07 63.25,343.93 63.75,343.93 64.50,337.05 65.00,337.05 65.75,343.95 66.25,343.95 67.00,337.03 67.50,337.03 68.25,343.97 68.75,343.97 69.50,337.01 70.00,337.01 70.75,343.99 71.25,343.99 72.00,336.99 72.50,336.99 73.25,344.01 73.75,344.01 74.50,336.97 75.00,336.97 75.75,344.03 76.25,344.03 77.00,336.95 77.50,336.95 78.25,344.05 78.75,344.05 79.50,336.93 80.00,336.93 80.75,344.07 81.25,344.07 82.00,336.91 82.50,336.91 83.25,344.09 83.75,344.09 84.50,336.89 85.00,336.89 85.75,344.11 86.25,344.11 87.00,336.87 87.50,336.87 88.25,344.13 88.75,344.13 89.50,336.85 90.00,336.85 90.75,344.15 91.25,344.15 92.00,336.84 92.50,336.84 93.25,344.16 93.75,344.16 94.50,336.82 95.00,336.82 95.75,344.18 96.25,344.18 97.00,336.80 97.50,336.80 98.25,344.20 98.75,344.20 99.50,336.78 100.00,336.78 100.75,344.22 101.25,344.22 102.00,336.76 102.50,336.76 103.25,344.24 103.75,344.24 104.50,336.74 105.00,336.74 105.75,344.26 106.25,344.26 107.00,336.72 107.50,336.72 108.25,344.28 108.75,344.28 109.50,336.70 110.00,336.70 110.75,344.30 111.25,344.30 112.00,336.68 112.50,336.68 113.25,344.32 113.75,344.32 114.50,336.66 115.00,336.66 115.75,344.34 116.25,344.34 117.00,336.64 117.50,336.64 118.25,344.36 118.75,344.36 119.50,336.62 120.00,336.62 120.75,344.38 121.25,344.38 122.00,336.60 122.50,336.60 123.25,344.40 123.75,344.40 124.50,336.58 125.00,336.58 125.75,344.42 126.25,344.42 127.00,336.56 127.50,336.56 128.25,344.44 128.75,344.44 129.50,336.54 130.00,336.54 130.75,344.46 131.25,344.46 132.00,336.52 132.50,336.52 133.25,344.48 133.75,344.48 134.50,336.50 135.00,336.50 135.75,344.50 136.25,344.50 137.00,336.49 137.50,336.49 138.25,344.51 138.75,344.51 139.50,336.47 140.00,336.47 140.75,344.53 141.25,344.53 142.00,336.45 142.50,336.45 143.25,344.55 143.75,344.55 144.50,336.43 145.00,336.43 145.75,344.57 146.25,344.57 147.00,336.41 147.50,336.41 148.25,344.59 148.75,344.59 149.50,336.39 150.00,336.39 150.75,344.61 151.25,344.61 152.00,336.37 152.50,336.37 153.25,344.63 153.75,344.63 154.50,336.35 155.00,336.35 155.75,344.65 156.25,344.65 157.00,336.33 157.50,336.33 158.25,344.67 158.75,344.67 159.50,336.31 160.00,336.31 160.75,344.69 161.25,344.69 162.00,336.29 162.50,336.29 163.25,344.71 163.75,344.71 164.50,336.27 165.00,336.27 165.75,344.73 166.25,344.73 167.00,336.25 167.50,336.25 168.25,344.75 168.75,344.75 169.50,336.23 170.00,336.23 170.75,344.77 171.25,344.77 172.00,336.21 172.50,336.21 173.25,344.79 173.75,344.79 174.50,336.19 175.00,336.19 175.75,344.81 176.25,344.81 177.00,336.17 177.50,336.17 178.25,344.83 178.75,344.83 179.50,336.16 180.00,336.16 180.75,344.84 181.25,344.84 182.00,336.14 182.50,336.14 183.25,344.86 183.75,344.86 184.50,336.12 185.00,336.12 185.75,344.88 186.25,344.88 187.00,336.10 187.50,336.10 188.25,344.90 188.75,344.90 189.50,336.08 190.00,336.08 190.75,344.92 191.25,344.92 192.00,336.06 192.50,336.06 193.25,344.94 193.75,344.94 194.50,336.04 195.00,336.04 195.75,344.96 196.25,344.96 197.00,336.02 197.50,336.02 198.25,344.98 198.75,344.98 199.50,336.00 200.00,336.00 200.75,345.00 201.25,345.00 202.00,335.98 202.50,335.98 203.25,345.02 203.75,345.02 204.50,335.96 205.00,335.96 205.75,345.04 206.25,345.04 207.00,335.94 207.50,335.94 208.25,345.06 208.75,345.06 209.50,335.92 210.00,335.92 210.75,345.08 211.25,345.08 212.00,335.90 212.50,335.90 213.25,345.10 213.75,345.10 214.50,335.88" fill="none" stroke="#4fb4ee" stroke-width="0.6" stroke-linejoin="miter" opacity="0.5"/>
<polyline points="215.50,335.37 216.05,335.37 216.75,345.63 217.30,345.63 218.00,335.34 218.55,335.34 219.25,345.66 219.80,345.66 220.50,335.32 221.05,335.32 221.75,345.68 222.30,345.68 223.00,335.29 223.55,335.29 224.25,345.71 224.80,345.71 225.50,335.26 226.05,335.26 226.75,345.74 227.30,345.74 228.00,335.23 228.55,335.23 229.25,345.77 229.80,345.77 230.50,335.21 231.05,335.21 231.75,345.79 232.30,345.79 233.00,335.18 233.55,335.18 234.25,345.82 234.80,345.82 235.50,335.15 236.05,335.15 236.75,345.85 237.30,345.85 238.00,335.13 238.55,335.13 239.25,345.87 239.80,345.87 240.50,335.10 241.05,335.10 241.75,345.90 242.30,345.90 243.00,335.07 243.55,335.07 244.25,345.93 244.80,345.93 245.50,335.04 246.05,335.04 246.75,345.96 247.30,345.96 248.00,335.02 248.55,335.02 249.25,345.98 249.80,345.98 250.50,334.99 251.05,334.99 251.75,346.01 252.30,346.01 253.00,334.96 253.55,334.96 254.25,346.04 254.80,346.04 255.50,334.93 256.05,334.93 256.75,346.07 257.30,346.07 258.00,334.91 258.55,334.91 259.25,346.09 259.80,346.09 260.50,334.88 261.05,334.88 261.75,346.12 262.30,346.12 263.00,334.85 263.55,334.85 264.25,346.15 264.80,346.15 265.50,334.83 266.05,334.83 266.75,346.17 267.30,346.17 268.00,334.80 268.55,334.80 269.25,346.20 269.80,346.20 270.50,334.77 271.05,334.77 271.75,346.23 272.30,346.23 273.00,334.74 273.55,334.74 274.25,346.26 274.80,346.26 275.50,334.72 276.05,334.72 276.75,346.28 277.30,346.28 278.00,334.69 278.55,334.69 279.25,346.31 279.80,346.31 280.50,334.66 281.05,334.66 281.75,346.34 282.30,346.34 283.00,334.64 283.55,334.64 284.25,346.36 284.80,346.36 285.50,334.61 286.05,334.61 286.75,346.39 287.30,346.39 288.00,334.58 288.55,334.58 289.25,346.42 289.80,346.42 290.50,334.55 291.05,334.55 291.75,346.45 292.30,346.45 293.00,334.53 293.55,334.53 294.25,346.47 294.80,346.47 295.50,334.50 296.05,334.50 296.75,346.50 297.30,346.50 298.00,334.47 298.55,334.47 299.25,346.53 299.80,346.53 300.50,334.45 301.05,334.45 301.75,346.55 302.30,346.55 303.00,334.42 303.55,334.42 304.25,346.58 304.80,346.58 305.50,334.39 306.05,334.39 306.75,346.61 307.30,346.61 308.00,334.36 308.55,334.36 309.25,346.64 309.80,346.64 310.50,334.34 311.05,334.34 311.75,346.66 312.30,346.66 313.00,334.31 313.55,334.31 314.25,346.69 314.80,346.69 315.50,334.28 316.05,334.28 316.75,346.72 317.30,346.72 318.00,334.25 318.55,334.25 319.25,346.75 319.80,346.75 320.50,334.23 321.05,334.23 321.75,346.77 322.30,346.77 323.00,334.20 323.55,334.20 324.25,346.80 324.80,346.80 325.50,334.17 326.05,334.17 326.75,346.83 327.30,346.83 328.00,334.15 328.55,334.15 329.25,346.85 329.80,346.85 330.50,334.12 331.05,334.12 331.75,346.88 332.30,346.88 333.00,334.09 333.55,334.09 334.25,346.91 334.80,346.91 335.50,334.06 336.05,334.06 336.75,346.94 337.30,346.94 338.00,334.04 338.55,334.04 339.25,346.96 339.80,346.96 340.50,334.01 341.05,334.01 341.75,346.99 342.30,346.99 343.00,333.98 343.55,333.98 344.25,347.02 344.80,347.02 345.50,333.96 346.05,333.96 346.75,347.04 347.30,347.04 348.00,333.93 348.55,333.93 349.25,347.07 349.80,347.07 350.50,333.90 351.05,333.90 351.75,347.10 352.30,347.10 353.00,333.87 353.55,333.87 354.25,347.13 354.80,347.13 355.50,333.85 356.05,333.85 356.75,347.15 357.30,347.15 358.00,333.82 358.55,333.82 359.25,347.18 359.80,347.18 360.50,333.79 361.05,333.79 361.75,347.21 362.30,347.21 363.00,333.76 363.55,333.76 364.25,347.24 364.80,347.24 365.50,333.74 366.05,333.74 366.75,347.26 367.30,347.26 368.00,333.71 368.55,333.71 369.25,347.29 369.80,347.29 370.50,333.68 371.05,333.68 371.75,347.32 372.30,347.32 373.00,333.66 373.55,333.66 374.25,347.34 374.80,347.34 375.50,333.63 376.05,333.63 376.75,347.37 377.30,347.37 378.00,333.60 378.55,333.60 379.25,347.40 379.80,347.40 380.50,333.57" fill="none" stroke="#3fa9f5" stroke-width="0.72" stroke-linejoin="miter" opacity="1"/>
<polyline points="177.50,335.75 178.05,335.75 178.75,345.25 179.30,345.25 180.00,335.74 180.55,335.74 181.25,345.26 181.80,345.26 182.50,335.72 183.05,335.72 183.75,345.28 184.30,345.28 185.00,335.70 185.55,335.70 186.25,345.30 186.80,345.30 187.50,335.68 188.05,335.68 188.75,345.32 189.30,345.32 190.00,335.66 190.55,335.66 191.25,345.34 191.80,345.34 192.50,335.64 193.05,335.64 193.75,345.36 194.30,345.36 195.00,335.63 195.55,335.63 196.25,345.37 196.80,345.37 197.50,335.61 198.05,335.61 198.75,345.39 199.30,345.39 200.00,335.59 200.55,335.59 201.25,345.41 201.80,345.41 202.50,335.57 203.05,335.57 203.75,345.43 204.30,345.43 205.00,335.55 205.55,335.55 206.25,345.45 206.80,345.45 207.50,335.53 208.05,335.53 208.75,345.47 209.30,345.47 210.00,335.52 210.55,335.52 211.25,345.48 211.80,345.48 212.50,335.50 213.05,335.50 213.75,345.50 214.30,345.50" fill="none" stroke="#f5143c" stroke-width="0.74" stroke-linejoin="miter" opacity="1"/>
<polyline points="49.50,336.91 50.05,336.91 50.75,344.09 51.30,344.09 52.00,336.89 52.55,336.89 53.25,344.11 53.80,344.11 54.50,336.86 55.05,336.86 55.75,344.14 56.30,344.14 57.00,336.84 57.55,336.84 58.25,344.16 58.80,344.16 59.50,336.82 60.05,336.82 60.75,344.18 61.30,344.18 62.00,336.80 62.55,336.80 63.25,344.20 63.80,344.20 64.50,336.77 65.05,336.77 65.75,344.23 66.30,344.23 67.00,336.75 67.55,336.75 68.25,344.25 68.80,344.25 69.50,336.73 70.05,336.73 70.75,344.27 71.30,344.27 72.00,336.71 72.55,336.71 73.25,344.29 73.80,344.29 74.50,336.68 75.05,336.68 75.75,344.32 76.30,344.32 77.00,336.66 77.55,336.66 78.25,344.34 78.80,344.34 79.50,336.64 80.05,336.64 80.75,344.36 81.30,344.36 82.00,336.61 82.55,336.61 83.25,344.39 83.80,344.39 84.50,336.59 85.05,336.59 85.75,344.41 86.30,344.41 87.00,336.57 87.55,336.57 88.25,344.43 88.80,344.43 89.50,336.55 90.05,336.55 90.75,344.45 91.30,344.45 92.00,336.52 92.55,336.52 93.25,344.48 93.80,344.48 94.50,336.50 95.05,336.50 95.75,344.50 96.30,344.50 97.00,336.48 97.55,336.48 98.25,344.52 98.80,344.52 99.50,336.46 100.05,336.46 100.75,344.54 101.30,344.54 102.00,336.43 102.55,336.43 103.25,344.57 103.80,344.57 104.50,336.41 105.05,336.41 105.75,344.59 106.30,344.59 107.00,336.39 107.55,336.39 108.25,344.61 108.80,344.61 109.50,336.37 110.05,336.37 110.75,344.63 111.30,344.63 112.00,336.34 112.55,336.34 113.25,344.66 113.80,344.66 114.50,336.32 115.05,336.32 115.75,344.68 116.30,344.68 117.00,336.30 117.55,336.30 118.25,344.70 118.80,344.70 119.50,336.28 120.05,336.28 120.75,344.72 121.30,344.72 122.00,336.25 122.55,336.25 123.25,344.75 123.80,344.75 124.50,336.23 125.05,336.23 125.75,344.77 126.30,344.77 127.00,336.21 127.55,336.21 128.25,344.79 128.80,344.79 129.50,336.18 130.05,336.18 130.75,344.82 131.30,344.82 132.00,336.16 132.55,336.16 133.25,344.84 133.80,344.84 134.50,336.14 135.05,336.14 135.75,344.86 136.30,344.86 137.00,336.12 137.55,336.12 138.25,344.88 138.80,344.88 139.50,336.09 140.05,336.09 140.75,344.91 141.30,344.91 142.00,336.07 142.55,336.07 143.25,344.93 143.80,344.93 144.50,336.05 145.05,336.05 145.75,344.95 146.30,344.95 147.00,336.03 147.55,336.03 148.25,344.97 148.80,344.97 149.50,336.00 150.05,336.00 150.75,345.00 151.30,345.00 152.00,335.98 152.55,335.98 153.25,345.02 153.80,345.02 154.50,335.96 155.05,335.96 155.75,345.04 156.30,345.04 157.00,335.94 157.55,335.94 158.25,345.06 158.80,345.06 159.50,335.91 160.05,335.91 160.75,345.09 161.30,345.09 162.00,335.89 162.55,335.89 163.25,345.11 163.80,345.11 164.50,335.87 165.05,335.87 165.75,345.13 166.30,345.13 167.00,335.85 167.55,335.85 168.25,345.15 168.80,345.15 169.50,335.82 170.05,335.82 170.75,345.18 171.30,345.18 172.00,335.80 172.55,335.80 173.25,345.20 173.80,345.20 174.50,335.78 175.05,335.78 175.75,345.22 176.30,345.22 177.00,335.75" fill="none" stroke="#000" stroke-width="0.7" stroke-linejoin="miter" opacity="1"/>
<polyline points="174.70,334.86 175.50,348.19 176.50,329.73 177.30,353.32 177.90,317.42 178.00,361.53 178.50,337.94" fill="none" stroke="#1c2a30" stroke-width="0.8" stroke-linejoin="miter" />
<line x1="177.90" y1="317.10" x2="177.90" y2="360.90" stroke="#26343a" stroke-width="1.0" />
<polyline points="211.70,334.09 212.50,348.19 213.20,330.24 213.50,354.61 214.20,327.68 214.90,318.44 215.45,325.11 215.60,373.08" fill="none" stroke="#f21f3d" stroke-width="0.95" stroke-linejoin="miter" />
<text x="48.90" y="404.60" font-size="10.2" text-anchor="middle" fill="#000" font-weight="bold" >0</text>
<line x1="132.50" y1="392.10" x2="132.50" y2="387.70" stroke="#000" stroke-width="1.55" />
<line x1="132.50" y1="282.50" x2="132.50" y2="286.90" stroke="#000" stroke-width="1.55" />
<text x="132.50" y="404.60" font-size="10.2" text-anchor="middle" fill="#000" font-weight="bold" >50</text>
<line x1="215.70" y1="392.10" x2="215.70" y2="387.70" stroke="#000" stroke-width="1.55" />
<line x1="215.70" y1="282.50" x2="215.70" y2="286.90" stroke="#000" stroke-width="1.55" />
<text x="215.70" y="404.60" font-size="10.2" text-anchor="middle" fill="#000" font-weight="bold" >100</text>
<line x1="298.90" y1="392.10" x2="298.90" y2="387.70" stroke="#000" stroke-width="1.55" />
<line x1="298.90" y1="282.50" x2="298.90" y2="286.90" stroke="#000" stroke-width="1.55" />
<text x="298.90" y="404.60" font-size="10.2" text-anchor="middle" fill="#000" font-weight="bold" >150</text>
<text x="381.10" y="404.60" font-size="10.2" text-anchor="middle" fill="#000" font-weight="bold" >200</text>
<line x1="90.90" y1="392.10" x2="90.90" y2="389.50" stroke="#000" stroke-width="1.55" />
<line x1="90.90" y1="282.50" x2="90.90" y2="285.10" stroke="#000" stroke-width="1.55" />
<line x1="174.10" y1="392.10" x2="174.10" y2="389.50" stroke="#000" stroke-width="1.55" />
<line x1="174.10" y1="282.50" x2="174.10" y2="285.10" stroke="#000" stroke-width="1.55" />
<line x1="257.30" y1="392.10" x2="257.30" y2="389.50" stroke="#000" stroke-width="1.55" />
<line x1="257.30" y1="282.50" x2="257.30" y2="285.10" stroke="#000" stroke-width="1.55" />
<line x1="340.50" y1="392.10" x2="340.50" y2="389.50" stroke="#000" stroke-width="1.55" />
<line x1="340.50" y1="282.50" x2="340.50" y2="285.10" stroke="#000" stroke-width="1.55" />
<line x1="48.90" y1="289.20" x2="53.30" y2="289.20" stroke="#000" stroke-width="1.55" />
<line x1="381.30" y1="289.20" x2="376.90" y2="289.20" stroke="#000" stroke-width="1.55" />
<text x="44.20" y="292.60" font-size="10.1" text-anchor="end" fill="#000" font-weight="bold" >2</text>
<line x1="48.90" y1="314.85" x2="53.30" y2="314.85" stroke="#000" stroke-width="1.55" />
<line x1="381.30" y1="314.85" x2="376.90" y2="314.85" stroke="#000" stroke-width="1.55" />
<text x="44.20" y="318.25" font-size="10.1" text-anchor="end" fill="#000" font-weight="bold" >1</text>
<line x1="48.90" y1="340.50" x2="53.30" y2="340.50" stroke="#000" stroke-width="1.55" />
<line x1="381.30" y1="340.50" x2="376.90" y2="340.50" stroke="#000" stroke-width="1.55" />
<text x="44.20" y="343.90" font-size="10.1" text-anchor="end" fill="#000" font-weight="bold" >0</text>
<line x1="48.90" y1="366.15" x2="53.30" y2="366.15" stroke="#000" stroke-width="1.55" />
<line x1="381.30" y1="366.15" x2="376.90" y2="366.15" stroke="#000" stroke-width="1.55" />
<text x="44.20" y="369.55" font-size="10.1" text-anchor="end" fill="#000" font-weight="bold" >-1</text>
<text x="44.20" y="395.20" font-size="10.1" text-anchor="end" fill="#000" font-weight="bold" >-2</text>
<line x1="48.90" y1="302.02" x2="51.50" y2="302.02" stroke="#000" stroke-width="1.55" />
<line x1="381.30" y1="302.02" x2="378.70" y2="302.02" stroke="#000" stroke-width="1.55" />
<line x1="48.90" y1="327.68" x2="51.50" y2="327.68" stroke="#000" stroke-width="1.55" />
<line x1="381.30" y1="327.68" x2="378.70" y2="327.68" stroke="#000" stroke-width="1.55" />
<line x1="48.90" y1="353.32" x2="51.50" y2="353.32" stroke="#000" stroke-width="1.55" />
<line x1="381.30" y1="353.32" x2="378.70" y2="353.32" stroke="#000" stroke-width="1.55" />
<line x1="48.90" y1="378.98" x2="51.50" y2="378.98" stroke="#000" stroke-width="1.55" />
<line x1="381.30" y1="378.98" x2="378.70" y2="378.98" stroke="#000" stroke-width="1.55" />
<rect x="48.90" y="282.50" width="332.40" height="109.60" fill="none" stroke="#000" stroke-width="1.85"/>
<text transform="translate(214.8,413.00) scale(0.93,1)" font-size="13.2" text-anchor="middle" font-weight="bold">Time / h</text>
<text transform="translate(27.2,401.3) rotate(-90)" font-size="12.5" font-weight="bold">Potential (V) vs. Li/Li<tspan font-size="9" dy="-4.5">+</tspan></text>
<line x1="52.50" y1="289.40" x2="74.00" y2="289.40" stroke="#5f696c" stroke-width="2.0" />
<text x="78.00" y="292.90" font-size="10" text-anchor="start" fill="#000" font-weight="bold" >EF31</text>
<line x1="52.50" y1="302.30" x2="74.00" y2="302.30" stroke="#f2506a" stroke-width="1.1" />
<text x="78.00" y="305.80" font-size="10" text-anchor="start" fill="#000" font-weight="bold" >EF31-D</text>
<line x1="52.50" y1="314.90" x2="74.00" y2="314.90" stroke="#55b6f0" stroke-width="1.1" />
<text x="78.00" y="318.40" font-size="10" text-anchor="start" fill="#000" font-weight="bold" >EF31-D with LiNO<tspan font-size="6.5" dy="2.2">3</tspan><tspan dy="-2.2"> treated Li</tspan></text>
<text x="288.50" y="308.70" font-size="12.3" text-anchor="start" fill="#000" font-weight="bold" >3.6 mA cm<tspan font-size="8.5" dy="-5">-2</tspan></text>
<text x="0.00" y="268.90" font-size="22.6" text-anchor="start" fill="#000" font-weight="bold" >b</text>
<line x1="169.60" y1="352.10" x2="130.23" y2="423.29" stroke="#000" stroke-width="1.35" />
<polygon points="129.50,424.60 129.95,417.99 131.10,421.71 134.85,420.70" fill="#000" />
<line x1="217.30" y1="358.20" x2="246.87" y2="422.24" stroke="#f5143c" stroke-width="1.35" />
<polygon points="247.50,423.60 242.44,419.33 246.12,420.60 247.53,416.98" fill="#f5143c" />
<line x1="372.70" y1="352.40" x2="359.57" y2="423.52" stroke="#3aa6f2" stroke-width="1.4" />
<polygon points="359.30,425.00 357.64,418.59 359.90,421.75 363.14,419.61" fill="#3aa6f2" />
<clipPath id="c48_416"><rect x="48.3" y="416.45" width="94.39999999999999" height="79.55000000000001"/></clipPath>
<polyline points="49.30,445.09 49.30,461.99 49.70,458.01 49.70,466.69 49.70,461.99 54.20,461.99 54.20,466.69 54.20,458.01 54.90,456.23 54.90,445.33 54.90,450.30 59.50,450.30 59.50,445.33 59.50,456.23 60.80,458.01 60.80,466.69 60.80,461.99 65.30,461.99 65.30,466.69 65.30,458.01 66.00,456.23 66.00,445.33 66.00,450.30 70.60,450.30 70.60,445.33 70.60,456.23 71.90,458.01 71.90,466.69 71.90,461.99 76.40,461.99 76.40,466.69 76.40,458.01 77.10,456.23 77.10,445.33 77.10,450.30 81.70,450.30 81.70,445.33 81.70,456.23 83.00,458.01 83.00,466.69 83.00,461.99 87.50,461.99 87.50,466.69 87.50,458.01 88.20,456.23 88.20,445.33 88.20,450.30 92.80,450.30 92.80,445.33 92.80,456.23 94.10,458.01 94.10,466.69 94.10,461.99 98.60,461.99 98.60,466.69 98.60,458.01 99.30,456.23 99.30,445.33 99.30,450.30 103.90,450.30 103.90,445.33 103.90,456.23 104.70,442.30 104.90,470.54 106.20,471.34 106.80,476.91 107.80,482.48 108.80,487.25 109.40,488.05 109.85,484.86 110.00,408.50" fill="none" stroke="#000" stroke-width="1.5" stroke-linejoin="miter" clip-path="url(#c48_416)"/>
<text x="48.30" y="504.90" font-size="8.1" text-anchor="middle" fill="#000" font-weight="bold" >65</text>
<line x1="71.90" y1="496.00" x2="71.90" y2="493.40" stroke="#000" stroke-width="1.4" />
<line x1="71.90" y1="416.45" x2="71.90" y2="419.05" stroke="#000" stroke-width="1.4" />
<text x="71.90" y="504.90" font-size="8.1" text-anchor="middle" fill="#000" font-weight="bold" >70</text>
<line x1="95.50" y1="496.00" x2="95.50" y2="493.40" stroke="#000" stroke-width="1.4" />
<line x1="95.50" y1="416.45" x2="95.50" y2="419.05" stroke="#000" stroke-width="1.4" />
<text x="95.50" y="504.90" font-size="8.1" text-anchor="middle" fill="#000" font-weight="bold" >75</text>
<line x1="119.10" y1="496.00" x2="119.10" y2="493.40" stroke="#000" stroke-width="1.4" />
<line x1="119.10" y1="416.45" x2="119.10" y2="419.05" stroke="#000" stroke-width="1.4" />
<text x="119.10" y="504.90" font-size="8.1" text-anchor="middle" fill="#000" font-weight="bold" >80</text>
<text x="142.70" y="504.90" font-size="8.1" text-anchor="middle" fill="#000" font-weight="bold" >85</text>
<line x1="60.10" y1="496.00" x2="60.10" y2="494.40" stroke="#000" stroke-width="1.3" />
<line x1="60.10" y1="416.45" x2="60.10" y2="418.05" stroke="#000" stroke-width="1.3" />
<line x1="83.70" y1="496.00" x2="83.70" y2="494.40" stroke="#000" stroke-width="1.3" />
<line x1="83.70" y1="416.45" x2="83.70" y2="418.05" stroke="#000" stroke-width="1.3" />
<line x1="107.30" y1="496.00" x2="107.30" y2="494.40" stroke="#000" stroke-width="1.3" />
<line x1="107.30" y1="416.45" x2="107.30" y2="418.05" stroke="#000" stroke-width="1.3" />
<line x1="130.90" y1="496.00" x2="130.90" y2="494.40" stroke="#000" stroke-width="1.3" />
<line x1="130.90" y1="416.45" x2="130.90" y2="418.05" stroke="#000" stroke-width="1.3" />
<text x="45.50" y="419.35" font-size="8.1" text-anchor="end" fill="#000" font-weight="bold" >1.0</text>
<line x1="48.30" y1="436.34" x2="50.90" y2="436.34" stroke="#000" stroke-width="1.4" />
<line x1="142.70" y1="436.34" x2="140.10" y2="436.34" stroke="#000" stroke-width="1.4" />
<text x="45.50" y="439.24" font-size="8.1" text-anchor="end" fill="#000" font-weight="bold" >0.5</text>
<line x1="48.30" y1="456.23" x2="50.90" y2="456.23" stroke="#000" stroke-width="1.4" />
<line x1="142.70" y1="456.23" x2="140.10" y2="456.23" stroke="#000" stroke-width="1.4" />
<text x="45.50" y="459.12" font-size="8.1" text-anchor="end" fill="#000" font-weight="bold" >0.0</text>
<line x1="48.30" y1="476.11" x2="50.90" y2="476.11" stroke="#000" stroke-width="1.4" />
<line x1="142.70" y1="476.11" x2="140.10" y2="476.11" stroke="#000" stroke-width="1.4" />
<text x="45.50" y="479.01" font-size="8.1" text-anchor="end" fill="#000" font-weight="bold" >-0.5</text>
<text x="45.50" y="498.90" font-size="8.1" text-anchor="end" fill="#000" font-weight="bold" >-1.0</text>
<line x1="48.30" y1="426.39" x2="49.90" y2="426.39" stroke="#000" stroke-width="1.3" />
<line x1="142.70" y1="426.39" x2="141.10" y2="426.39" stroke="#000" stroke-width="1.3" />
<line x1="48.30" y1="446.28" x2="49.90" y2="446.28" stroke="#000" stroke-width="1.3" />
<line x1="142.70" y1="446.28" x2="141.10" y2="446.28" stroke="#000" stroke-width="1.3" />
<line x1="48.30" y1="466.17" x2="49.90" y2="466.17" stroke="#000" stroke-width="1.3" />
<line x1="142.70" y1="466.17" x2="141.10" y2="466.17" stroke="#000" stroke-width="1.3" />
<line x1="48.30" y1="486.06" x2="49.90" y2="486.06" stroke="#000" stroke-width="1.3" />
<line x1="142.70" y1="486.06" x2="141.10" y2="486.06" stroke="#000" stroke-width="1.3" />
<rect x="48.30" y="416.45" width="94.40" height="79.55" fill="none" stroke="#000" stroke-width="1.85"/>
<text x="95.20" y="513.40" font-size="10.35" text-anchor="middle" fill="#000" font-weight="bold" >Time / h</text>
<text transform="translate(29.4,493.3) rotate(-90)" font-size="7.9" font-weight="bold">Potential (V) vs. Li/Li<tspan font-size="5" dy="-2.5">+</tspan></text>
<line x1="54.90" y1="476.11" x2="63.10" y2="476.11" stroke="#000" stroke-width="1.8" />
<text x="65.90" y="478.71" font-size="7.65" text-anchor="start" fill="#000" font-weight="bold" >EF-31</text>
<clipPath id="c168_416"><rect x="168.6" y="416.45" width="94.79999999999998" height="79.55000000000001"/></clipPath>
<polyline points="169.65,455.43 169.65,447.28 169.65,450.66 174.15,450.66 174.15,447.28 174.15,455.43 175.25,457.82 175.25,464.78 175.25,461.20 179.55,461.20 179.55,464.78 179.55,457.82 180.70,455.43 180.70,447.28 180.70,450.66 185.20,450.66 185.20,447.28 185.20,455.43 186.30,457.82 186.30,464.78 186.30,461.20 190.60,461.20 190.60,464.78 190.60,457.82 191.75,455.43 191.75,447.28 191.75,450.66 196.25,450.66 196.25,447.28 196.25,455.43 197.35,457.82 197.35,464.78 197.35,461.20 201.65,461.20 201.65,464.78 201.65,457.82 202.80,455.43 202.80,447.28 202.80,450.66 207.30,450.66 207.30,447.28 207.30,455.43 208.40,457.82 208.40,464.78 208.40,461.20 212.70,461.20 212.70,464.78 212.70,457.82 213.85,455.43 213.85,447.28 213.85,450.66 218.35,450.66 218.35,447.28 218.35,455.43 219.45,457.82 219.45,464.78 219.45,461.20 223.75,461.20 223.75,464.78 223.75,457.82 224.90,455.43 224.90,447.28 224.90,450.66 229.40,450.66 229.40,447.28 229.40,455.43 230.60,457.82 230.60,462.99 233.00,463.78 235.00,472.53 235.40,439.52 237.60,427.19 240.00,421.62 240.70,422.02 240.90,460.20 241.40,462.19 241.50,503.96" fill="none" stroke="#f8163c" stroke-width="1.5" stroke-linejoin="miter" clip-path="url(#c168_416)"/>
<text x="168.60" y="504.90" font-size="8.1" text-anchor="middle" fill="#000" font-weight="bold" >85</text>
<line x1="192.30" y1="496.00" x2="192.30" y2="493.40" stroke="#000" stroke-width="1.4" />
<line x1="192.30" y1="416.45" x2="192.30" y2="419.05" stroke="#000" stroke-width="1.4" />
<text x="192.30" y="504.90" font-size="8.1" text-anchor="middle" fill="#000" font-weight="bold" >90</text>
<line x1="216.00" y1="496.00" x2="216.00" y2="493.40" stroke="#000" stroke-width="1.4" />
<line x1="216.00" y1="416.45" x2="216.00" y2="419.05" stroke="#000" stroke-width="1.4" />
<text x="216.00" y="504.90" font-size="8.1" text-anchor="middle" fill="#000" font-weight="bold" >95</text>
<line x1="239.70" y1="496.00" x2="239.70" y2="493.40" stroke="#000" stroke-width="1.4" />
<line x1="239.70" y1="416.45" x2="239.70" y2="419.05" stroke="#000" stroke-width="1.4" />
<text x="239.70" y="504.90" font-size="8.1" text-anchor="middle" fill="#000" font-weight="bold" >100</text>
<text x="263.40" y="504.90" font-size="8.1" text-anchor="middle" fill="#000" font-weight="bold" >105</text>
<line x1="180.45" y1="496.00" x2="180.45" y2="494.40" stroke="#000" stroke-width="1.3" />
<line x1="180.45" y1="416.45" x2="180.45" y2="418.05" stroke="#000" stroke-width="1.3" />
<line x1="204.15" y1="496.00" x2="204.15" y2="494.40" stroke="#000" stroke-width="1.3" />
<line x1="204.15" y1="416.45" x2="204.15" y2="418.05" stroke="#000" stroke-width="1.3" />
<line x1="227.85" y1="496.00" x2="227.85" y2="494.40" stroke="#000" stroke-width="1.3" />
<line x1="227.85" y1="416.45" x2="227.85" y2="418.05" stroke="#000" stroke-width="1.3" />
<line x1="251.55" y1="496.00" x2="251.55" y2="494.40" stroke="#000" stroke-width="1.3" />
<line x1="251.55" y1="416.45" x2="251.55" y2="418.05" stroke="#000" stroke-width="1.3" />
<text x="165.80" y="419.35" font-size="8.1" text-anchor="end" fill="#000" font-weight="bold" >1.0</text>
<line x1="168.60" y1="436.34" x2="171.20" y2="436.34" stroke="#000" stroke-width="1.4" />
<line x1="263.40" y1="436.34" x2="260.80" y2="436.34" stroke="#000" stroke-width="1.4" />
<text x="165.80" y="439.24" font-size="8.1" text-anchor="end" fill="#000" font-weight="bold" >0.5</text>
<line x1="168.60" y1="456.23" x2="171.20" y2="456.23" stroke="#000" stroke-width="1.4" />
<line x1="263.40" y1="456.23" x2="260.80" y2="456.23" stroke="#000" stroke-width="1.4" />
<text x="165.80" y="459.12" font-size="8.1" text-anchor="end" fill="#000" font-weight="bold" >0.0</text>
<line x1="168.60" y1="476.11" x2="171.20" y2="476.11" stroke="#000" stroke-width="1.4" />
<line x1="263.40" y1="476.11" x2="260.80" y2="476.11" stroke="#000" stroke-width="1.4" />
<text x="165.80" y="479.01" font-size="8.1" text-anchor="end" fill="#000" font-weight="bold" >-0.5</text>
<text x="165.80" y="498.90" font-size="8.1" text-anchor="end" fill="#000" font-weight="bold" >-1.0</text>
<line x1="168.60" y1="426.39" x2="170.20" y2="426.39" stroke="#000" stroke-width="1.3" />
<line x1="263.40" y1="426.39" x2="261.80" y2="426.39" stroke="#000" stroke-width="1.3" />
<line x1="168.60" y1="446.28" x2="170.20" y2="446.28" stroke="#000" stroke-width="1.3" />
<line x1="263.40" y1="446.28" x2="261.80" y2="446.28" stroke="#000" stroke-width="1.3" />
<line x1="168.60" y1="466.17" x2="170.20" y2="466.17" stroke="#000" stroke-width="1.3" />
<line x1="263.40" y1="466.17" x2="261.80" y2="466.17" stroke="#000" stroke-width="1.3" />
<line x1="168.60" y1="486.06" x2="170.20" y2="486.06" stroke="#000" stroke-width="1.3" />
<line x1="263.40" y1="486.06" x2="261.80" y2="486.06" stroke="#000" stroke-width="1.3" />
<rect x="168.60" y="416.45" width="94.80" height="79.55" fill="none" stroke="#000" stroke-width="1.85"/>
<text x="215.70" y="513.40" font-size="10.35" text-anchor="middle" fill="#000" font-weight="bold" >Time / h</text>
<text transform="translate(150.2,493.3) rotate(-90)" font-size="7.9" font-weight="bold">Potential (V) vs. Li/Li<tspan font-size="5" dy="-2.5">+</tspan></text>
<line x1="175.20" y1="476.11" x2="183.40" y2="476.11" stroke="#f8163c" stroke-width="1.8" />
<text x="186.20" y="478.71" font-size="7.9" text-anchor="start" fill="#000" font-weight="bold" >EF-31-D</text>
<clipPath id="c289_416"><rect x="289.3" y="416.45" width="95.0" height="79.55000000000001"/></clipPath>
<polyline points="292.30,462.35 292.30,466.69 292.30,457.82 293.60,456.23 293.60,445.64 293.60,450.30 298.30,450.30 298.30,445.64 298.30,456.23 299.30,457.82 299.30,466.69 299.30,462.35 303.63,462.35 303.63,466.69 303.63,457.82 304.93,456.23 304.93,445.64 304.93,450.30 309.63,450.30 309.63,445.64 309.63,456.23 310.63,457.82 310.63,466.69 310.63,462.35 314.96,462.35 314.96,466.69 314.96,457.82 316.26,456.23 316.26,445.64 316.26,450.30 320.96,450.30 320.96,445.64 320.96,456.23 321.96,457.82 321.96,466.69 321.96,462.35 326.29,462.35 326.29,466.69 326.29,457.82 327.59,456.23 327.59,445.64 327.59,450.30 332.29,450.30 332.29,445.64 332.29,456.23 333.29,457.82 333.29,466.69 333.29,462.35 337.62,462.35 337.62,466.69 337.62,457.82 338.92,456.23 338.92,445.64 338.92,450.30 343.62,450.30 343.62,445.64 343.62,456.23 344.62,457.82 344.62,466.69 344.62,462.35 348.95,462.35 348.95,466.69 348.95,457.82 350.25,456.23 350.25,445.64 350.25,450.30 354.95,450.30 354.95,445.64 354.95,456.23 355.95,457.82 355.95,466.69 355.95,462.35 360.28,462.35 360.28,466.69 360.28,457.82 361.58,456.23 361.58,445.64 361.58,450.30 366.28,450.30 366.28,445.64 366.28,456.23 367.28,457.82 367.28,466.69 367.28,462.35 371.61,462.35 371.61,466.69 371.61,457.82 372.91,456.23 372.91,445.64 372.91,450.30 377.61,450.30 377.61,445.64 377.61,456.23 378.61,457.82 378.61,466.69 378.61,462.35 382.94,462.35 382.94,466.69 382.94,457.82 384.24,456.23 384.24,445.64 384.24,450.30" fill="none" stroke="#45aef5" stroke-width="1.5" stroke-linejoin="miter" clip-path="url(#c289_416)"/>
<text x="289.30" y="504.90" font-size="8.1" text-anchor="middle" fill="#000" font-weight="bold" >180</text>
<line x1="313.05" y1="496.00" x2="313.05" y2="493.40" stroke="#000" stroke-width="1.4" />
<line x1="313.05" y1="416.45" x2="313.05" y2="419.05" stroke="#000" stroke-width="1.4" />
<text x="313.05" y="504.90" font-size="8.1" text-anchor="middle" fill="#000" font-weight="bold" >185</text>
<line x1="336.80" y1="496.00" x2="336.80" y2="493.40" stroke="#000" stroke-width="1.4" />
<line x1="336.80" y1="416.45" x2="336.80" y2="419.05" stroke="#000" stroke-width="1.4" />
<text x="336.80" y="504.90" font-size="8.1" text-anchor="middle" fill="#000" font-weight="bold" >190</text>
<line x1="360.55" y1="496.00" x2="360.55" y2="493.40" stroke="#000" stroke-width="1.4" />
<line x1="360.55" y1="416.45" x2="360.55" y2="419.05" stroke="#000" stroke-width="1.4" />
<text x="360.55" y="504.90" font-size="8.1" text-anchor="middle" fill="#000" font-weight="bold" >195</text>
<text x="384.30" y="504.90" font-size="8.1" text-anchor="middle" fill="#000" font-weight="bold" >200</text>
<line x1="301.18" y1="496.00" x2="301.18" y2="494.40" stroke="#000" stroke-width="1.3" />
<line x1="301.18" y1="416.45" x2="301.18" y2="418.05" stroke="#000" stroke-width="1.3" />
<line x1="324.93" y1="496.00" x2="324.93" y2="494.40" stroke="#000" stroke-width="1.3" />
<line x1="324.93" y1="416.45" x2="324.93" y2="418.05" stroke="#000" stroke-width="1.3" />
<line x1="348.68" y1="496.00" x2="348.68" y2="494.40" stroke="#000" stroke-width="1.3" />
<line x1="348.68" y1="416.45" x2="348.68" y2="418.05" stroke="#000" stroke-width="1.3" />
<line x1="372.43" y1="496.00" x2="372.43" y2="494.40" stroke="#000" stroke-width="1.3" />
<line x1="372.43" y1="416.45" x2="372.43" y2="418.05" stroke="#000" stroke-width="1.3" />
<text x="286.50" y="419.35" font-size="8.1" text-anchor="end" fill="#000" font-weight="bold" >1.0</text>
<line x1="289.30" y1="436.34" x2="291.90" y2="436.34" stroke="#000" stroke-width="1.4" />
<line x1="384.30" y1="436.34" x2="381.70" y2="436.34" stroke="#000" stroke-width="1.4" />
<text x="286.50" y="439.24" font-size="8.1" text-anchor="end" fill="#000" font-weight="bold" >0.5</text>
<line x1="289.30" y1="456.23" x2="291.90" y2="456.23" stroke="#000" stroke-width="1.4" />
<line x1="384.30" y1="456.23" x2="381.70" y2="456.23" stroke="#000" stroke-width="1.4" />
<text x="286.50" y="459.12" font-size="8.1" text-anchor="end" fill="#000" font-weight="bold" >0.0</text>
<line x1="289.30" y1="476.11" x2="291.90" y2="476.11" stroke="#000" stroke-width="1.4" />
<line x1="384.30" y1="476.11" x2="381.70" y2="476.11" stroke="#000" stroke-width="1.4" />
<text x="286.50" y="479.01" font-size="8.1" text-anchor="end" fill="#000" font-weight="bold" >-0.5</text>
<text x="286.50" y="498.90" font-size="8.1" text-anchor="end" fill="#000" font-weight="bold" >-1.0</text>
<line x1="289.30" y1="426.39" x2="290.90" y2="426.39" stroke="#000" stroke-width="1.3" />
<line x1="384.30" y1="426.39" x2="382.70" y2="426.39" stroke="#000" stroke-width="1.3" />
<line x1="289.30" y1="446.28" x2="290.90" y2="446.28" stroke="#000" stroke-width="1.3" />
<line x1="384.30" y1="446.28" x2="382.70" y2="446.28" stroke="#000" stroke-width="1.3" />
<line x1="289.30" y1="466.17" x2="290.90" y2="466.17" stroke="#000" stroke-width="1.3" />
<line x1="384.30" y1="466.17" x2="382.70" y2="466.17" stroke="#000" stroke-width="1.3" />
<line x1="289.30" y1="486.06" x2="290.90" y2="486.06" stroke="#000" stroke-width="1.3" />
<line x1="384.30" y1="486.06" x2="382.70" y2="486.06" stroke="#000" stroke-width="1.3" />
<rect x="289.30" y="416.45" width="95.00" height="79.55" fill="none" stroke="#000" stroke-width="1.85"/>
<text x="336.50" y="513.40" font-size="10.35" text-anchor="middle" fill="#000" font-weight="bold" >Time / h</text>
<text transform="translate(271.2,493.3) rotate(-90)" font-size="7.9" font-weight="bold">Potential (V) vs. Li/Li<tspan font-size="5" dy="-2.5">+</tspan></text>
<line x1="295.90" y1="476.11" x2="304.10" y2="476.11" stroke="#45aef5" stroke-width="1.8" />
<text x="306.90" y="478.71" font-size="7.9" text-anchor="start" fill="#000" font-weight="bold" >EF-31-D with LiNO<tspan font-size="5.2" dy="1.8">3</tspan></text>
<text x="305.80" y="489.31" font-size="7.9" text-anchor="start" fill="#000" font-weight="bold" >treated Li</text>
</svg>
</body></html>
